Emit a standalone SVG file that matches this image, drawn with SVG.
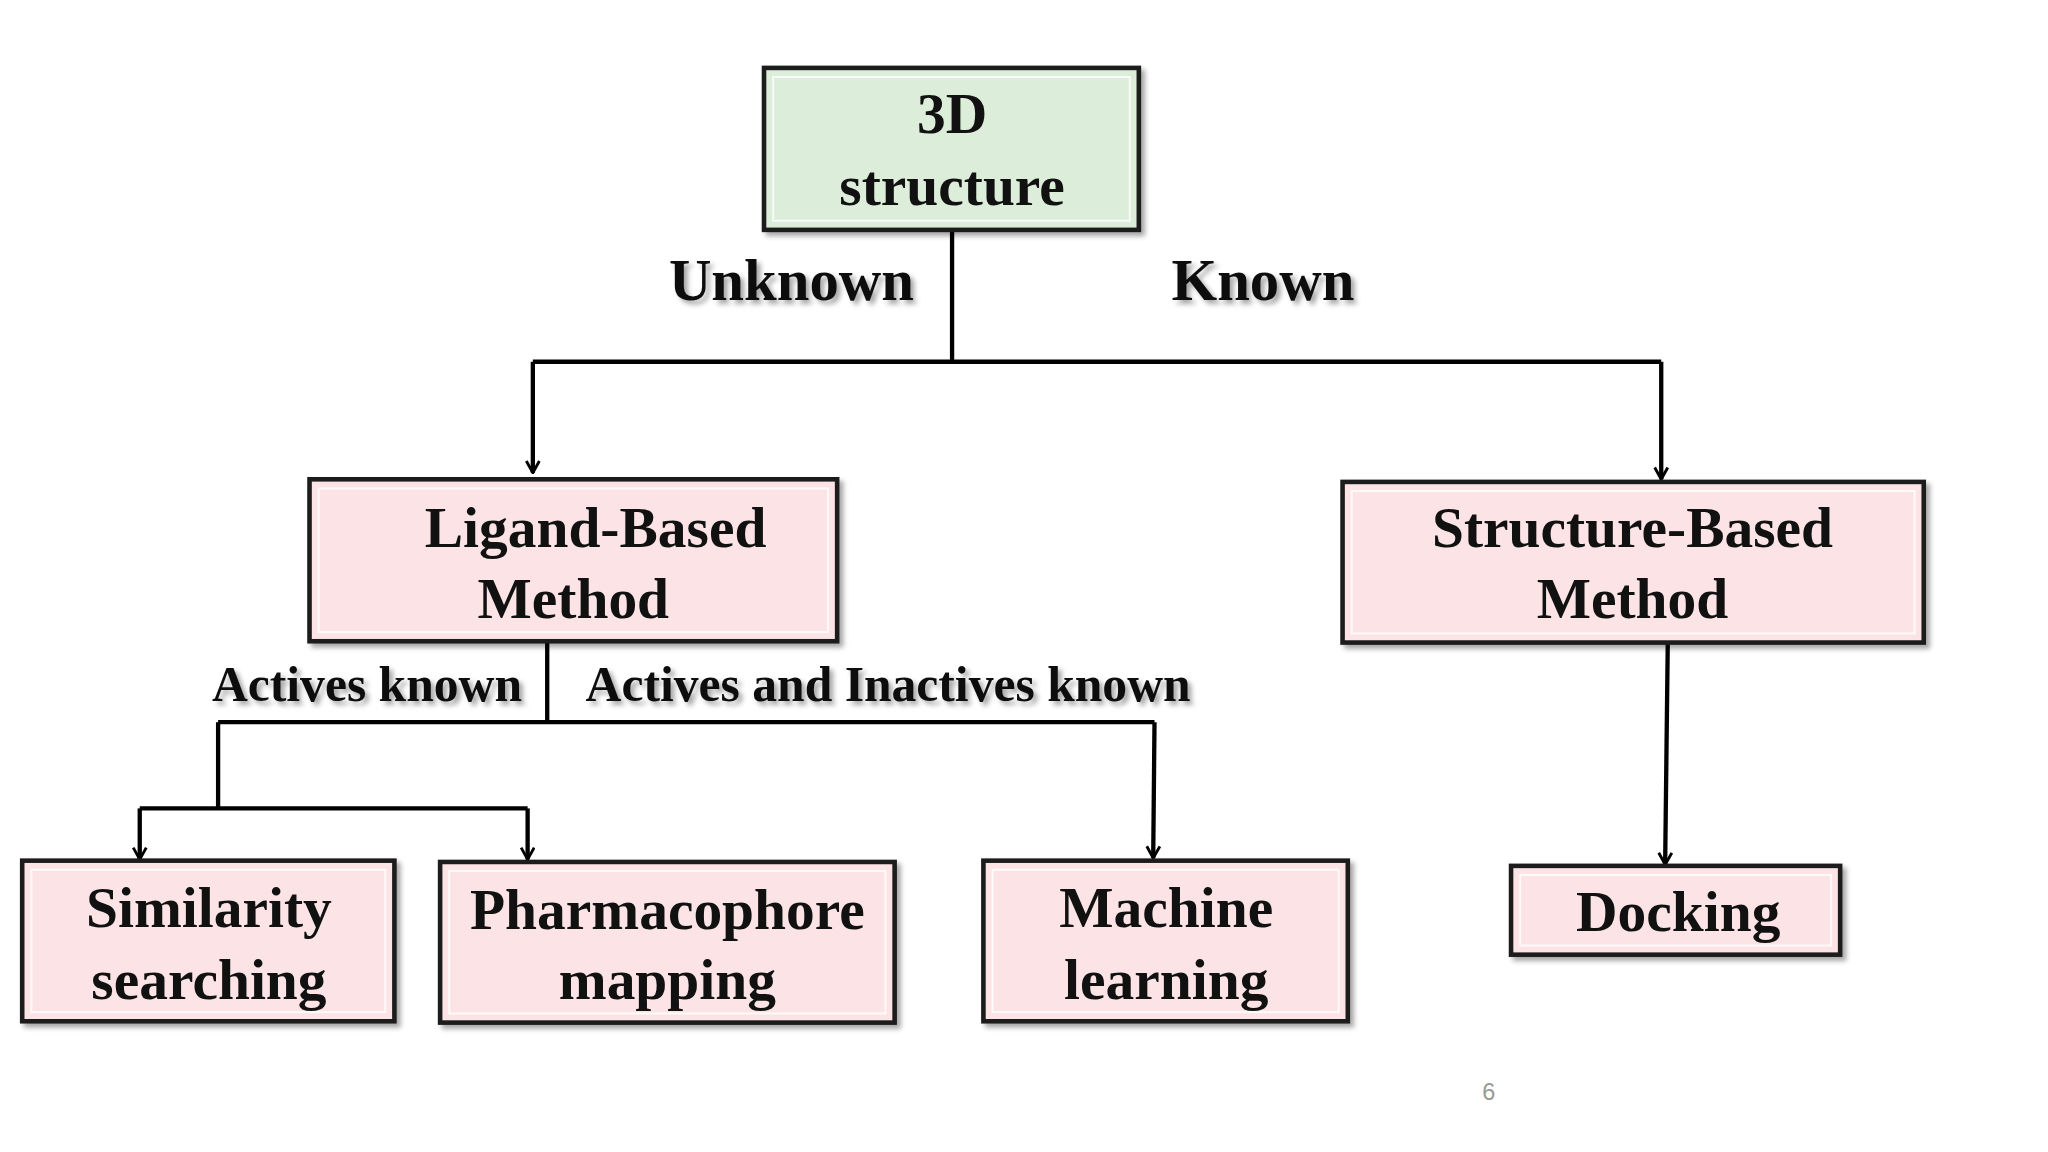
<svg xmlns="http://www.w3.org/2000/svg" width="2048" height="1152" viewBox="0 0 2048 1152">
<style>
.box{stroke:#1a1a1a;stroke-width:3.5}
.pink{fill:#fce4e6}
.green{fill:#dcedd9}
.inner{fill:none;stroke:#ffffff;stroke-opacity:0.8;stroke-width:1.5}
.t{font-family:"Liberation Serif","Times New Roman",serif;font-weight:bold;fill:#111;text-anchor:middle}
.big{font-size:44px}
.lbl{font-size:45px}
.sm{font-size:38px}
.ln{fill:none;stroke:#000;stroke-width:3.3}
</style>
<defs>
<marker id="ar" viewBox="0 0 12 12" refX="11" refY="6" markerWidth="12" markerHeight="12" markerUnits="userSpaceOnUse" orient="auto">
<path d="M2,1 L11,6 L2,11" fill="none" stroke="#000" stroke-width="2.2"/>
</marker>
<filter id="sh" x="-5%" y="-10%" width="115%" height="130%">
<feDropShadow dx="3" dy="3" stdDeviation="2" flood-color="#000" flood-opacity="0.35"/>
</filter>
</defs>
<rect width="2048" height="1152" fill="#fff"/>
<g transform="scale(1.306)">
<g id="connectors">
<path class="ln" d="M729,176 V277"/>
<path class="ln" d="M408,277 H1272"/>
<path class="ln" d="M408,277 V362" marker-end="url(#ar)"/>
<path class="ln" d="M1272,277 V367" marker-end="url(#ar)"/>
<path class="ln" d="M419,491 V553"/>
<path class="ln" d="M167,553 H884"/>
<path class="ln" d="M884,553 L883,657" marker-end="url(#ar)"/>
<path class="ln" d="M167,553 V619"/>
<path class="ln" d="M107,619 H404"/>
<path class="ln" d="M107,619 V658" marker-end="url(#ar)"/>
<path class="ln" d="M404,619 V658" marker-end="url(#ar)"/>
<path class="ln" d="M1277,492 L1275,662" marker-end="url(#ar)"/>
</g>
<g id="labels" filter="url(#sh)">
<text class="t lbl" x="606" y="230">Unknown</text>
<text class="t lbl" x="967" y="230">Known</text>
<text class="t sm" x="281" y="537">Actives known</text>
<text class="t sm" x="680" y="537">Actives and Inactives known</text>
</g>
<g id="n3d">
<rect class="box green" x="585" y="52" width="287" height="124" filter="url(#sh)"/>
<rect class="inner" x="592" y="59" width="273" height="110"/>
<text class="t big" x="729" y="102">3D</text>
<text class="t big" x="729" y="157">structure</text>
</g>
<g id="ligand">
<rect class="box pink" x="237" y="367" width="404" height="124" filter="url(#sh)"/>
<rect class="inner" x="244" y="374" width="390" height="110"/>
<text class="t big" x="456" y="419">Ligand-Based</text>
<text class="t big" x="439" y="473">Method</text>
</g>
<g id="structure">
<rect class="box pink" x="1028" y="369" width="445" height="123" filter="url(#sh)"/>
<rect class="inner" x="1035" y="376" width="431" height="109"/>
<text class="t big" x="1250" y="419">Structure-Based</text>
<text class="t big" x="1250" y="473">Method</text>
</g>
<g id="similarity">
<rect class="box pink" x="17" y="659" width="285" height="123" filter="url(#sh)"/>
<rect class="inner" x="24" y="666" width="271" height="109"/>
<text class="t big" x="160" y="710">Similarity</text>
<text class="t big" x="160" y="765">searching</text>
</g>
<g id="pharmacophore">
<rect class="box pink" x="337" y="660" width="348" height="123" filter="url(#sh)"/>
<rect class="inner" x="344" y="667" width="334" height="109"/>
<text class="t big" x="511" y="711">Pharmacophore</text>
<text class="t big" x="511" y="765">mapping</text>
</g>
<g id="machine">
<rect class="box pink" x="753" y="659" width="279" height="123" filter="url(#sh)"/>
<rect class="inner" x="760" y="666" width="265" height="109"/>
<text class="t big" x="893" y="710">Machine</text>
<text class="t big" x="893" y="765">learning</text>
</g>
<g id="docking">
<rect class="box pink" x="1157" y="663" width="252" height="68" filter="url(#sh)"/>
<rect class="inner" x="1164" y="670" width="238" height="54"/>
<text class="t big" x="1285" y="713">Docking</text>
</g>
<text x="1140" y="842" font-family="Liberation Sans,Arial,sans-serif" font-size="18" fill="#999" text-anchor="middle">6</text>
</g>
</svg>
